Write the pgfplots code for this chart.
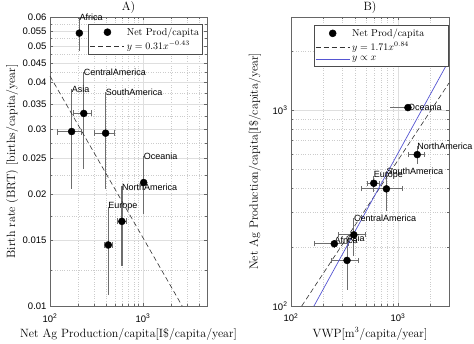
\documentclass[border=0pt]{standalone}
\usepackage{fontspec}
\usepackage{pgfplots}
\pgfplotsset{compat=1.18}
\newfontfamily\arial{Liberation Sans}
\definecolor{ebar}{RGB}{110,110,110}
\definecolor{mblue}{RGB}{85,85,210}
\pgfplotsset{
  legend image code/.code={\draw[mark repeat=2,mark phase=2,#1] plot coordinates {(0pt,0pt)(17pt,0pt)(34pt,0pt)};},
  every axis/.append style={scale only axis, clip=false,
    axis line style={black!60, line width=0.6pt}, tick style={black!60, line width=0.5pt},
    tick align=inside, grid=both,
    major grid style={gray!25, line width=0.4pt},
    minor grid style={gray!40, dotted, line width=0.4pt},
    ticklabel style={font=\arial\fontsize{9.5}{11}\selectfont},
    label style={font=\fontsize{12}{14}\selectfont},
    xticklabel style={yshift=-4pt},
    major tick length=3pt, minor tick length=1.8pt,
    legend style={font=\fontsize{10}{12}\selectfont, draw=black!70, line width=0.5pt, fill=white, inner sep=1.5pt, row sep=0.5pt, cells={anchor=west}},
  },
}
\tikzset{lab/.style={anchor=west, inner sep=0pt, font=\arial\fontsize{9}{10}\selectfont},
  ttl/.style={anchor=center, inner sep=0pt, font=\fontsize{12}{14}\selectfont}}
\begin{document}
\begin{tikzpicture}
\path[use as bounding box] (0,0) rectangle (474pt,343pt);
% ---------------- A ----------------
\begin{axis}[xmode=log, ymode=log, at={(50pt,37pt)}, anchor=south west, width=157pt, height=289pt,
  xmin=100, xmax=4900, ymin=0.01, ymax=0.06,
  xtick={100,1000}, xticklabels={10\textsuperscript{2},10\textsuperscript{3}},
  minor xtick={200,300,400,500,600,700,800,900,2000,3000,4000},
  ytick={0.01,0.015,0.02,0.025,0.03,0.035,0.04,0.045,0.05,0.055,0.06},
  yticklabels={0.01,0.015,0.02,0.025,0.03,0.035,0.04,0.045,0.05,0.055,0.06},
  minor ytick={0.0125,0.0175,0.0225,0.0275,0.0325,0.0375,0.0425,0.0475,0.0525,0.0575},
  xlabel={Net Ag Production/capita[I\$/capita/year]},
  ylabel={Birth rate (BRT) [births/capita/year]},
  x label style={at={(axis description cs:0.5,-0.097)}, anchor=center},
  y label style={at={(axis description cs:-0.242,0.5)}, anchor=center},
  legend style={at={(0.974,0.976)}, anchor=north east},
]
\addplot[only marks, mark=none, forget plot, error bars/.cd, y dir=both, y explicit, error mark=none,
  error bar style={line width=1.3pt, ebar}] coordinates {
(207,0.0543) +- (0,0.0057)
(171,0.0295) +- (0,0.0088)
(231,0.0330) +- (0,0.0096)
(397,0.0292) +- (0,0.0085)
(424,0.0146) +- (0,0.0039)
(594,0.0169) +- (0,0.0041)
(1020,0.0215) +- (0,0.0038)
};
\addplot[only marks, mark=none, forget plot, error bars/.cd, x dir=both, x explicit,
  error bar style={line width=1pt, ebar},
  error mark options={rotate=90, mark size=3pt, ebar, line width=1pt}] coordinates {
(171,0.0295) +- (50,0)
(231,0.0330) +- (50,0)
(397,0.0292) +- (92,0)
(424,0.0146) +- (42,0)
(594,0.0169) +- (66,0)
};
\addplot[only marks, mark=*, mark size=3.5pt, black] coordinates {
(207,0.0543) (171,0.0295) (231,0.0330) (397,0.0292) (424,0.0146) (594,0.0169) (1020,0.0215)
};
\addlegendentry{Net Prod/capita}
\addplot[black!80, line width=0.6pt, dash pattern=on 5pt off 3pt] coordinates {(100,0.0416) (2650,0.01)};
\addlegendentry{$y = 0.31x^{-0.43}$}
\node[lab] at (axis cs:207,0.0600) {Africa};
\node[lab] at (axis cs:171,0.0383) {Asia};
\node[lab] at (axis cs:231,0.0426) {CentralAmerica};
\node[lab] at (axis cs:397,0.0377) {SouthAmerica};
\node[lab] at (axis cs:1020,0.0253) {Oceania};
\node[lab] at (axis cs:594,0.0209) {NorthAmerica};
\node[lab] at (axis cs:424,0.0185) {Europe};
\node[ttl] at (rel axis cs:0.5,1.034) {A)};
\end{axis}
% ---------------- B ----------------
\begin{axis}[xmode=log, ymode=log, at={(291pt,37pt)}, anchor=south west, width=158pt, height=289pt,
  xmin=100, xmax=3000, ymin=100, ymax=3000,
  xtick={100,1000}, xticklabels={10\textsuperscript{2},10\textsuperscript{3}},
  ytick={100,1000}, yticklabels={10\textsuperscript{2},10\textsuperscript{3}},
  minor xtick={200,300,400,500,600,700,800,900,2000,3000},
  minor ytick={200,300,400,500,600,700,800,900,2000,3000},
  xlabel={VWP[m$^3$/capita/year]},
  ylabel={Net Ag Production/capita[I\$/capita/year]},
  x label style={at={(axis description cs:0.5,-0.097)}, anchor=center},
  y label style={at={(axis description cs:-0.228,0.5)}, anchor=center},
  legend style={at={(0.995,0.972)}, anchor=north east},
]
\addplot[only marks, mark=none, forget plot, error bars/.cd, y dir=both, y explicit, error mark=none,
  error bar style={line width=1pt, ebar}] coordinates {
(254,208) +- (0,9)
(334,171) +- (0,50)
(387,231) +- (0,50)
(780,397) +- (0,92)
(594,424) +- (0,40)
(1514,594) +- (0,62)
};
\addplot[only marks, mark=none, forget plot, error bars/.cd, x dir=both, x explicit,
  error bar style={line width=1pt, ebar},
  error mark options={rotate=90, mark size=2.5pt, ebar, line width=0.8pt}] coordinates {
(254,208) +- (90,0)
(334,171) +- (93,0)
(387,231) +- (110,0)
(780,397) +- (320,0)
(594,424) +- (80,0)
(1514,594) +- (270,0)
};
\addplot[only marks, mark=none, forget plot, error bars/.cd, x dir=minus, x explicit, error mark=none,
  error bar style={line width=1pt, ebar}] coordinates {
(1239,1033) -= (390,0)
};
\addplot[only marks, mark=*, mark size=3.5pt, black] coordinates {
(254,208) (334,171) (387,231) (780,397) (594,424) (1514,594) (1239,1033)
};
\addlegendentry{Net Prod/capita\rule{20pt}{0pt}}
\addplot[black!80, line width=0.6pt, dash pattern=on 5pt off 3pt] coordinates {(126,100) (3000,1380)};
\addlegendentry{$y = 1.71x^{0.84}$}
\addplot[mblue, line width=0.7pt] coordinates {(164,100) (3000,1800)};
\addlegendentry{$y \propto x$}
\node[lab] at (axis cs:254,217) {Africa};
\node[lab] at (axis cs:334,221) {Asia};
\node[lab] at (axis cs:387,281) {CentralAmerica};
\node[lab] at (axis cs:780,489) {SouthAmerica};
\node[lab] at (axis cs:594,464) {Europe};
\node[lab] at (axis cs:1514,656) {NorthAmerica};
\node[lab] at (axis cs:1239,1033) {Oceania};
\node[ttl] at (rel axis cs:0.5,1.034) {B)};
\end{axis}
\end{tikzpicture}
\end{document}
